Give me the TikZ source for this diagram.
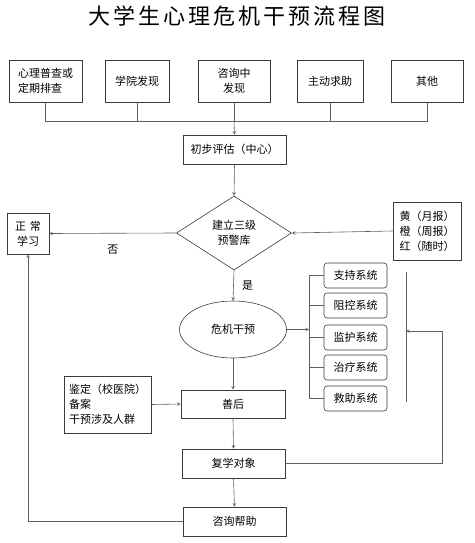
\documentclass[tikz,border=0pt]{standalone}
\usepackage{fontspec}
\setmainfont{Noto Sans CJK SC}
\usepackage{tikz}
\usetikzlibrary{arrows,shapes,positioning}
\definecolor{lngray}{RGB}{95,95,95}
\definecolor{bxgray}{RGB}{60,60,60}
\tikzstyle{arrow} = [semithick,->,>=stealth,color=lngray]
\tikzstyle{line} = [semithick,color=lngray]
\tikzstyle{stepbox} = [rectangle, draw=bxgray, semithick, inner sep=0pt, align=center, font=\fontsize{11}{15}\selectfont]
\tikzstyle{sysbox} = [stepbox, rounded corners=3pt, minimum width=63pt, minimum height=25pt]
\tikzstyle{tag} = [text=black, font=\fontsize{11}{13}\selectfont]

\begin{document}
\begin{tikzpicture}[x=1pt, y=-1pt]
\useasboundingbox (0,0) rectangle (474,543);
% title
\node (title) at (237,16) {\fontsize{22}{24}\selectfont\addfontfeature{LetterSpace=14}大学生心理危机干预流程图};
% sources
\node[stepbox, minimum width=73pt, minimum height=42pt, align=left] (src1) at (45.5,81) {心理普查或\\定期排查};
\node[stepbox, minimum width=64pt, minimum height=42pt] (src2) at (137,81) {学院发现};
\node[stepbox, minimum width=72pt, minimum height=42pt] (src3) at (234,81) {咨询中\\发现};
\node[stepbox, minimum width=66pt, minimum height=42pt] (src4) at (330,81) {主动求助};
\node[stepbox, minimum width=72pt, minimum height=42pt] (src5) at (427,81) {其他};
\coordinate (bus) at (0,121);
\draw[line] (src1.south) -- (src1 |- bus) -- (src5 |- bus) -- (src5.south);
\draw[line] (src2.south) -- (src2 |- bus);
\draw[line] (src4.south) -- (src4 |- bus);
\draw[line] (src3.south) -- (src3 |- bus);
% main column
\node[stepbox, minimum width=103pt, minimum height=29pt] (eval) at (234.5,149.5) {初步评估（中心）};
\node[stepbox, diamond, minimum width=115pt, minimum height=74pt] (warn) at (234,233) {建立三级\\预警库};
\node[stepbox, minimum width=42pt, minimum height=41pt] (normal) at (28,233.5) {正\,\,常\\学习};
\node[stepbox, minimum width=68pt, minimum height=58pt, align=left] (level) at (427,231) {黄（月报）\\橙（周报）\\红（随时）};
\node[stepbox, ellipse, minimum width=107pt, minimum height=57pt] (crisis) at (233,329.5) {危机干预};
\node[stepbox, minimum width=104pt, minimum height=28pt] (after) at (233,404) {善后};
\node[stepbox, minimum width=87pt, minimum height=57pt, align=left] (ident) at (107.5,404.5) {鉴定（校医院）\\备案\\干预涉及人群};
\node[stepbox, minimum width=103pt, minimum height=29pt] (resume) at (233.5,463.5) {复学对象};
\node[stepbox, minimum width=103pt, minimum height=29pt] (consult) at (234.5,521.5) {咨询帮助};
% support systems
\node[sysbox] (sys1) at (355.5,275.5) {支持系统};
\node[sysbox] (sys2) at (355.5,305.5) {阻控系统};
\node[sysbox] (sys3) at (355.5,337.5) {监护系统};
\node[sysbox] (sys4) at (355.5,367.5) {治疗系统};
\node[sysbox] (sys5) at (355.5,398.5) {救助系统};
\coordinate (brk) at (309,0);
\draw[line] (sys1.west) -- (sys1.west -| brk) -- (sys5.west -| brk) -- (sys5.west);
\draw[line] (sys2.west) -- (sys2.west -| brk);
\draw[line] (sys3.west) -- (sys3.west -| brk);
\draw[line] (sys4.west) -- (sys4.west -| brk);
% feedback
\coordinate (fbtop) at (406,272);
\coordinate (fbbot) at (406,402);
\coordinate (fbin) at (406,331);
\coordinate (fbcorner) at (442,0);
\draw[line] (fbtop) -- (fbbot);
\draw[arrow] (resume.east) -- (resume.east -| fbcorner) |- (fbin);
% arrows
\draw[arrow] (src3 |- bus) -- (eval.north);
\draw[arrow] (eval.south) -- (warn.north);
\draw[arrow] (warn.west) -- (normal.east) node[tag, pos=0.5, below=8pt] (no) {否};
\draw[arrow] (level.west) -- (warn.east);
\draw[arrow] (warn.south) -- (crisis.north) node[tag, pos=0.5, right=5pt] (yes) {是};
\draw[arrow] (crisis.east) -- (crisis.east -| brk);
\draw[arrow] (crisis.south) -- (after.north);
\draw[arrow] (ident.east) -- (after.west);
\draw[arrow] (after.south) -- (resume.north);
\draw[arrow] (resume.south) -- (consult.north);
\draw[arrow] (consult.west) -| (normal.south);
\end{tikzpicture}
\end{document}
